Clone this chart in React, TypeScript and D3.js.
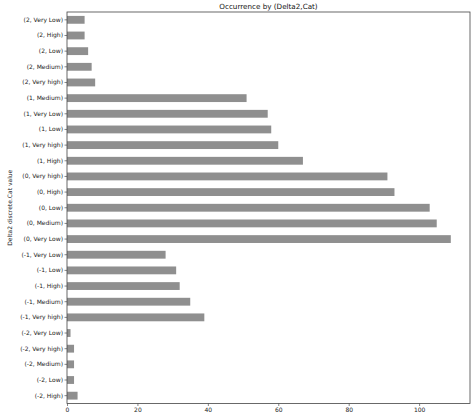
import React, { useEffect, useRef } from "react";
import * as d3 from "d3";

const WIDTH = 474;
const HEIGHT = 417;
const MARGIN = { top: 12, right: 4, bottom: 13.5, left: 67 };

// categories listed top to bottom, as drawn
const categories = [
  "(2, Very Low)", "(2, High)", "(2, Low)", "(2, Medium)", "(2, Very high)",
  "(1, Medium)", "(1, Very Low)", "(1, Low)", "(1, Very high)", "(1, High)",
  "(0, Very high)", "(0, High)", "(0, Low)", "(0, Medium)", "(0, Very Low)",
  "(-1, Very Low)", "(-1, Low)", "(-1, High)", "(-1, Medium)", "(-1, Very high)",
  "(-2, Very Low)", "(-2, Very high)", "(-2, Medium)", "(-2, Low)", "(-2, High)",
];
const counts = [
  5, 5, 6, 7, 8,
  51, 57, 58, 60, 67,
  91, 93, 103, 105, 109,
  28, 31, 32, 35, 39,
  1, 2, 2, 2, 3,
];
const xTicks = [0, 20, 40, 60, 80, 100];

const title = "Occurrence by (Delta2,Cat)";
const yLabel = "Delta2 discrete.Cat value";

const FONT = "DejaVu Sans, sans-serif";

const BarChart = () => {
  const gRef = useRef<SVGGElement>(null);

  const boundsWidth = WIDTH - MARGIN.left - MARGIN.right;
  const boundsHeight = HEIGHT - MARGIN.top - MARGIN.bottom;

  useEffect(() => {
    const g = d3.select(gRef.current);
    g.selectAll("*").remove();

    const xMax = (d3.max(counts) || 0) * 1.05;
    const xScale = d3.scaleLinear().domain([0, xMax]).range([0, boundsWidth]);
    const yScale = d3
      .scaleBand<string>()
      .domain(categories)
      .range([0, boundsHeight])
      .paddingInner(0.5)
      .paddingOuter(0.25);

    g.selectAll(".bar")
      .data(categories)
      .enter()
      .append("rect")
      .attr("class", "bar")
      .attr("x", 0)
      .attr("y", (d) => yScale(d) || 0)
      .attr("width", (_d, i) => xScale(counts[i]))
      .attr("height", yScale.bandwidth())
      .style("fill", "#8f8f8f");

    const xAxis = g
      .append("g")
      .attr("transform", "translate(0," + boundsHeight + ")")
      .call(d3.axisBottom(xScale).tickValues(xTicks).tickSize(2.5).tickPadding(1.5));
    xAxis.select(".domain").remove();
    xAxis.selectAll("text").style("font-family", FONT).style("font-size", "6px").attr("fill", "#222");
    xAxis.selectAll("line").attr("stroke", "#333").attr("stroke-width", 0.6);

    const yAxis = g
      .append("g")
      .call(d3.axisLeft(yScale).tickSize(2.5).tickPadding(1.5));
    yAxis.select(".domain").remove();
    yAxis.selectAll("text").style("font-family", FONT).style("font-size", "6px").attr("fill", "#222");
    yAxis.selectAll("line").attr("stroke", "#333").attr("stroke-width", 0.6);

    // frame
    g.append("rect")
      .attr("width", boundsWidth)
      .attr("height", boundsHeight)
      .attr("fill", "none")
      .attr("stroke", "#444")
      .attr("stroke-width", 0.8);

    g.append("text")
      .attr("x", boundsWidth / 2)
      .attr("y", -3)
      .attr("text-anchor", "middle")
      .style("font-family", FONT)
      .style("font-size", "7.2px")
      .attr("fill", "#111")
      .text(title);

    g.append("text")
      .attr("transform", `translate(${-55},${boundsHeight / 2}) rotate(-90)`)
      .attr("text-anchor", "middle")
      .style("font-family", FONT)
      .style("font-size", "6px")
      .attr("fill", "#222")
      .text(yLabel);
  }, []);

  return (
    <svg
      width={WIDTH}
      height={HEIGHT}
      style={{ position: "absolute", left: 0, top: 0, background: "#fff" }}
    >
      <g ref={gRef} transform={`translate(${MARGIN.left},${MARGIN.top})`} />
    </svg>
  );
};

export default function App() {
  return <BarChart />;
}
